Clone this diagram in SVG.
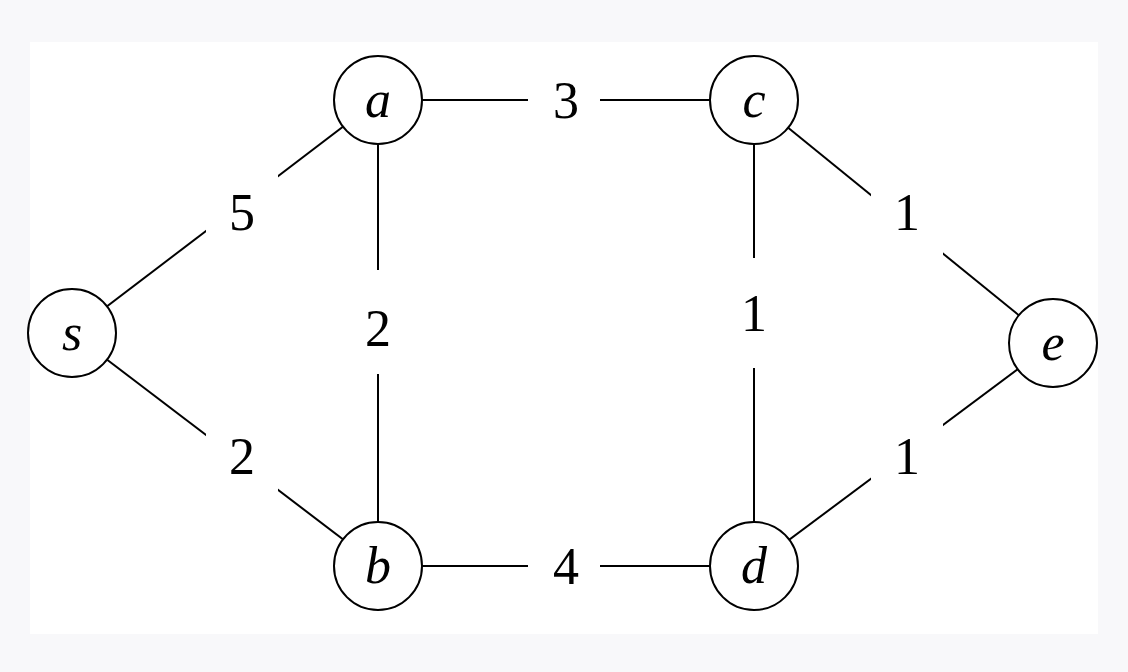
<svg xmlns="http://www.w3.org/2000/svg" width="1128" height="672" viewBox="0 0 1128 672">
<style>
.n circle{fill:#fff;stroke:#000;stroke-width:2}
.n text{font-family:"Liberation Serif",serif;font-style:italic;font-size:52px;text-anchor:middle}
.e line{stroke:#000;stroke-width:2}
.l rect{fill:#fff}
.l text{font-family:"Liberation Serif",serif;font-size:52px;text-anchor:middle}
</style>
<rect width="1128" height="672" fill="#f8f8fa"/>
<rect x="30" y="42" width="1068" height="592" fill="#fff"/>
<g id="connectors">
<g class="e">
<line x1="72" y1="333" x2="378" y2="100"/>
<line x1="72" y1="333" x2="378" y2="566"/>
<line x1="378" y1="100" x2="754" y2="100"/>
<line x1="378" y1="100" x2="378" y2="566"/>
<line x1="378" y1="566" x2="754" y2="566"/>
<line x1="754" y1="100" x2="754" y2="566"/>
<line x1="754" y1="100" x2="1053" y2="343"/>
<line x1="754" y1="566" x2="1053" y2="343"/>
</g>
<g class="l">
<rect x="206" y="160" width="72" height="104"/><text x="242" y="230">5</text>
<rect x="206" y="404" width="72" height="104"/><text x="242" y="474">2</text>
<rect x="528" y="48" width="72" height="104"/><text x="566" y="118">3</text>
<rect x="528" y="514" width="72" height="104"/><text x="566" y="584">4</text>
<rect x="342" y="270" width="72" height="104"/><text x="378" y="346">2</text>
<rect x="718" y="258" width="72" height="110"/><text x="754" y="331">1</text>
<rect x="871" y="162" width="72" height="104"/><text x="907" y="230">1</text>
<rect x="871" y="404" width="72" height="104"/><text x="907" y="474">1</text>
</g>
</g>
<g id="s" class="n"><circle cx="72" cy="333" r="44"/><text x="72" y="350">s</text></g>
<g id="a" class="n"><circle cx="378" cy="100" r="44"/><text x="378" y="117">a</text></g>
<g id="c" class="n"><circle cx="754" cy="100" r="44"/><text x="754" y="117">c</text></g>
<g id="e" class="n"><circle cx="1053" cy="343" r="44"/><text x="1053" y="360">e</text></g>
<g id="b" class="n"><circle cx="378" cy="566" r="44"/><text x="378" y="583">b</text></g>
<g id="d" class="n"><circle cx="754" cy="566" r="44"/><text x="754" y="583">d</text></g>
</svg>
